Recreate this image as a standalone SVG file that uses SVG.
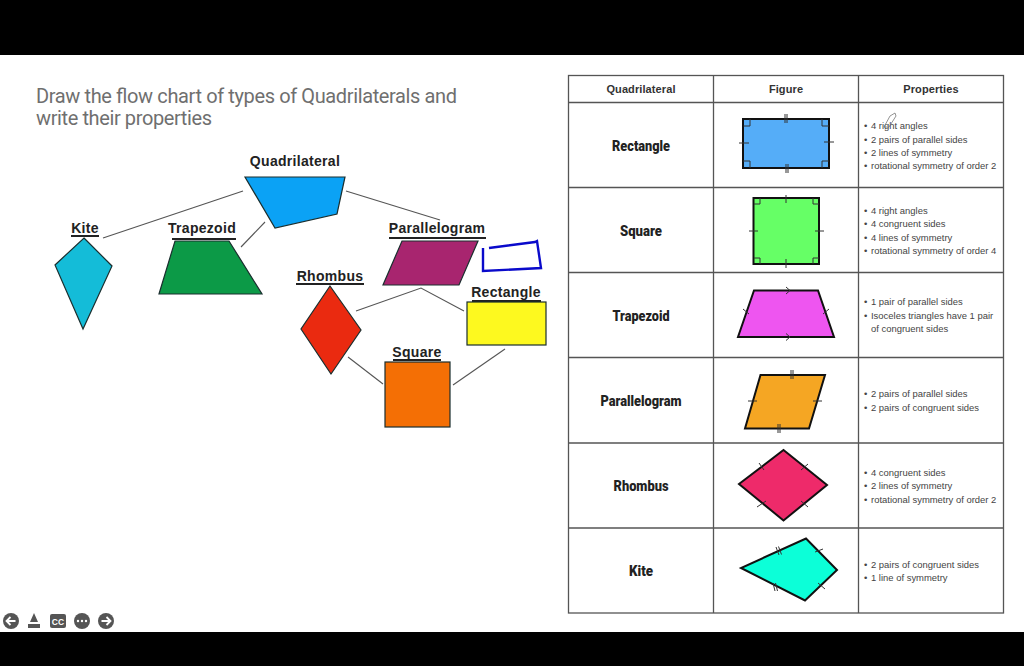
<svg xmlns="http://www.w3.org/2000/svg" width="1024" height="666" viewBox="0 0 1024 666">
<style>
.bar{fill:#000}
.title{font:20px Roboto,"Liberation Sans",sans-serif;fill:#6f6f6f}
.lbl{font:bold 14px "Liberation Sans",Arial,sans-serif;fill:#222;text-anchor:middle;letter-spacing:.3px}
.ul{stroke:#222;stroke-width:2;fill:none}
.shape{stroke:#1a2e2e;stroke-width:1.2}
.conn{stroke:#555;stroke-width:1.1;fill:none}
.grid{stroke:#555;stroke-width:1.3;fill:none}
.hd{font:bold 11px "Liberation Sans",Arial,sans-serif;fill:#333;text-anchor:middle;letter-spacing:.1px}
.nm{font:900 14px Roboto,"Liberation Sans",sans-serif;fill:#222;text-anchor:middle}
.p{font:9.45px "Liberation Sans",Arial,sans-serif;fill:#444}
.fig{stroke:#111;stroke-width:2}
.tk{stroke:#333;stroke-width:1;fill:none}
.ic{fill:#555}
.icl{stroke:#fff;stroke-width:1.8;fill:none}
</style>
<rect width="1024" height="666" fill="#fff"/>
<rect class="bar" width="1024" height="55"/>
<rect class="bar" y="632" width="1024" height="34"/>
<text class="title" x="36" y="102.500" textLength="421">Draw the flow chart of types of Quadrilaterals and</text>
<text class="title" x="36" y="124.500" textLength="176">write their properties</text>

<g id="connectors">
<path class="conn" d="M243 191L103 238"/>
<path class="conn" d="M265 222L241 247"/>
<path class="conn" d="M346 191L440 220"/>
<path class="conn" d="M356 311L421 288L464 311"/>
<path class="conn" d="M348 357L383 384"/>
<path class="conn" d="M505 349L453 385"/>
</g>

<g id="node-quadrilateral"><text class="lbl" x="295" y="166">Quadrilateral</text><polygon class="shape" fill="#0ba2f5" points="245,177 345,177 337,214 275,228"/></g>
<g id="node-kite"><text class="lbl" x="85" y="233">Kite</text><path class="ul" d="M71 236H99"/><polygon class="shape" fill="#14bcd8" points="84,238 112,266 83,329 55,265"/></g>
<g id="node-trapezoid"><text class="lbl" x="202" y="233">Trapezoid</text><path class="ul" d="M172 239H236"/><polygon class="shape" fill="#0c9a47" points="175,241 229,241 262,294 159,294"/></g>
<g id="node-parallelogram"><text class="lbl" x="437" y="233">Parallelogram</text><path class="ul" d="M389 238H486"/><polygon class="shape" fill="#a8256f" points="402,241 478,241 459,285 383,285"/></g>
<g id="node-rhombus"><text class="lbl" x="330" y="281">Rhombus</text><path class="ul" d="M296 284H364"/><polygon class="shape" fill="#ea2a10" points="330,286 361,330 331,374 301,329"/></g>
<g id="node-rectangle"><text class="lbl" x="506" y="297">Rectangle</text><path class="ul" d="M472 301H541"/><rect class="shape" fill="#fdf91f" x="467" y="302" width="79" height="43"/></g>
<g id="node-square"><text class="lbl" x="417" y="357">Square</text><path class="ul" d="M393 360H441"/><rect class="shape" fill="#f46f05" x="385" y="362" width="65" height="65"/></g>
<path d="M489 248L535 242L537 241L541 268L483 271L483 248" fill="none" stroke="#0a0acb" stroke-width="2.4"/>

<g id="table">
<rect class="grid" x="568.500" y="75.500" width="435" height="537.500"/>
<path class="grid" d="M713.500 75.500V613M858.500 75.500V613M568.500 102.500H1003.500M568.500 187.500H1003.500M568.500 272.500H1003.500M568.500 357.500H1003.500M568.500 443H1003.500M568.500 528H1003.500"/>
<text class="hd" x="641" y="93">Quadrilateral</text><text class="hd" x="786" y="93">Figure</text><text class="hd" x="931" y="93">Properties</text>

<text class="nm" x="641" y="150.500" textLength="58" lengthAdjust="spacingAndGlyphs">Rectangle</text>
<text class="nm" x="641" y="235.500" textLength="42" lengthAdjust="spacingAndGlyphs">Square</text>
<text class="nm" x="641" y="320.500" textLength="57" lengthAdjust="spacingAndGlyphs">Trapezoid</text>
<text class="nm" x="641" y="405.500" textLength="81" lengthAdjust="spacingAndGlyphs">Parallelogram</text>
<text class="nm" x="641" y="490.500" textLength="55" lengthAdjust="spacingAndGlyphs">Rhombus</text>
<text class="nm" x="641" y="575.500" textLength="24" lengthAdjust="spacingAndGlyphs">Kite</text>

<g class="p">
<text x="864" y="129">• <tspan x="871">4 right angles</tspan></text>
<text x="864" y="142.500">• <tspan x="871">2 pairs of parallel sides</tspan></text>
<text x="864" y="156">• <tspan x="871">2 lines of symmetry</tspan></text>
<text x="864" y="169">• <tspan x="871">rotational symmetry of order 2</tspan></text>
<text x="864" y="214">• <tspan x="871">4 right angles</tspan></text>
<text x="864" y="227">• <tspan x="871">4 congruent sides</tspan></text>
<text x="864" y="240.500">• <tspan x="871">4 lines of symmetry</tspan></text>
<text x="864" y="254">• <tspan x="871">rotational symmetry of order 4</tspan></text>
<text x="864" y="305">• <tspan x="871">1 pair of parallel sides</tspan></text>
<text x="864" y="318.500">• <tspan x="871">Isoceles triangles have 1 pair</tspan></text>
<text x="871" y="332">of congruent sides</text>
<text x="864" y="397">• <tspan x="871">2 pairs of parallel sides</tspan></text>
<text x="864" y="410.500">• <tspan x="871">2 pairs of congruent sides</tspan></text>
<text x="864" y="475.500">• <tspan x="871">4 congruent sides</tspan></text>
<text x="864" y="489">• <tspan x="871">2 lines of symmetry</tspan></text>
<text x="864" y="502.500">• <tspan x="871">rotational symmetry of order 2</tspan></text>
<text x="864" y="567.500">• <tspan x="871">2 pairs of congruent sides</tspan></text>
<text x="864" y="581">• <tspan x="871">1 line of symmetry</tspan></text>
</g>
</g>

<g id="figure-rectangle">
<rect class="fig" fill="#55adf8" x="743" y="119" width="86" height="49"/>
<path class="tk" d="M785 114V123M787 114V123M786 164V173M788 164V173M739 143H749M824 142H834M743.500 126H750V119M822 119V126H829M743 161H750V168M822 168V161H829"/>
</g>
<g id="figure-square">
<rect class="fig" fill="#66ff66" x="753.500" y="198" width="65.500" height="66"/>
<path class="tk" d="M786 195V203M786 259V268M749 231H758M815 231H824M754 204H760V198M813 198V204H819M754 258H760V264M813 264V258H819"/>
</g>
<g id="figure-trapezoid">
<polygon class="fig" fill="#ee55f0" points="754,290.500 818,290.500 834,337 738,337"/>
<path class="tk" d="M786 287L790 290.500L786 294M786 333.500L790 337L786 340.500M743 309L749 314M829 309L823 314"/>
</g>
<g id="figure-parallelogram">
<polygon class="fig" fill="#f5a623" points="760.500,375 825,375 809,428.500 745,428.500"/>
<path class="tk" d="M791 370V379M793 370V379M778 424V433M780 424V433M748 401H757M813 401H822"/>
</g>
<g id="figure-rhombus">
<polygon class="fig" fill="#ee2a6a" points="783.500,450 827,485 783.500,520.500 739,484"/>
<path class="tk" d="M759 463L764 470M808 464L801 470M757 507L766 501M808 507L801 501"/>
</g>
<g id="figure-kite">
<polygon class="fig" fill="#0cffd8" points="806,538.500 837,570 805,600.500 741,568"/>
<path class="tk" d="M776 547L779 555M778.500 546.500L781.500 554.500M773 583L775 591M775.500 583L777.500 591M815 552L823 549M818 583L825 589"/>
</g>
<path d="M884 127L890 116L895 113L896 116L889 127Z" fill="none" stroke="#777" stroke-width=".8"/>

<g id="player-controls">
<circle class="ic" cx="11" cy="621" r="8"/><path class="icl" d="M15.500 621H7M10.500 617L6.500 621L10.500 625"/>
<path class="ic" d="M34 613L38 622H30ZM28 624H40V628H28Z"/>
<rect class="ic" x="50" y="614" width="16" height="14" rx="2"/><text x="58" y="625" text-anchor="middle" font-family="Liberation Sans,sans-serif" font-weight="bold" font-size="8.500" fill="#fff">CC</text>
<circle class="ic" cx="82" cy="621" r="8"/><circle cx="78" cy="621" r="1.200" fill="#fff"/><circle cx="82" cy="621" r="1.200" fill="#fff"/><circle cx="86" cy="621" r="1.200" fill="#fff"/>
<circle class="ic" cx="106" cy="621" r="8"/><path class="icl" d="M101.500 621H110M106.500 617L110.500 621L106.500 625"/>
</g>
</svg>
